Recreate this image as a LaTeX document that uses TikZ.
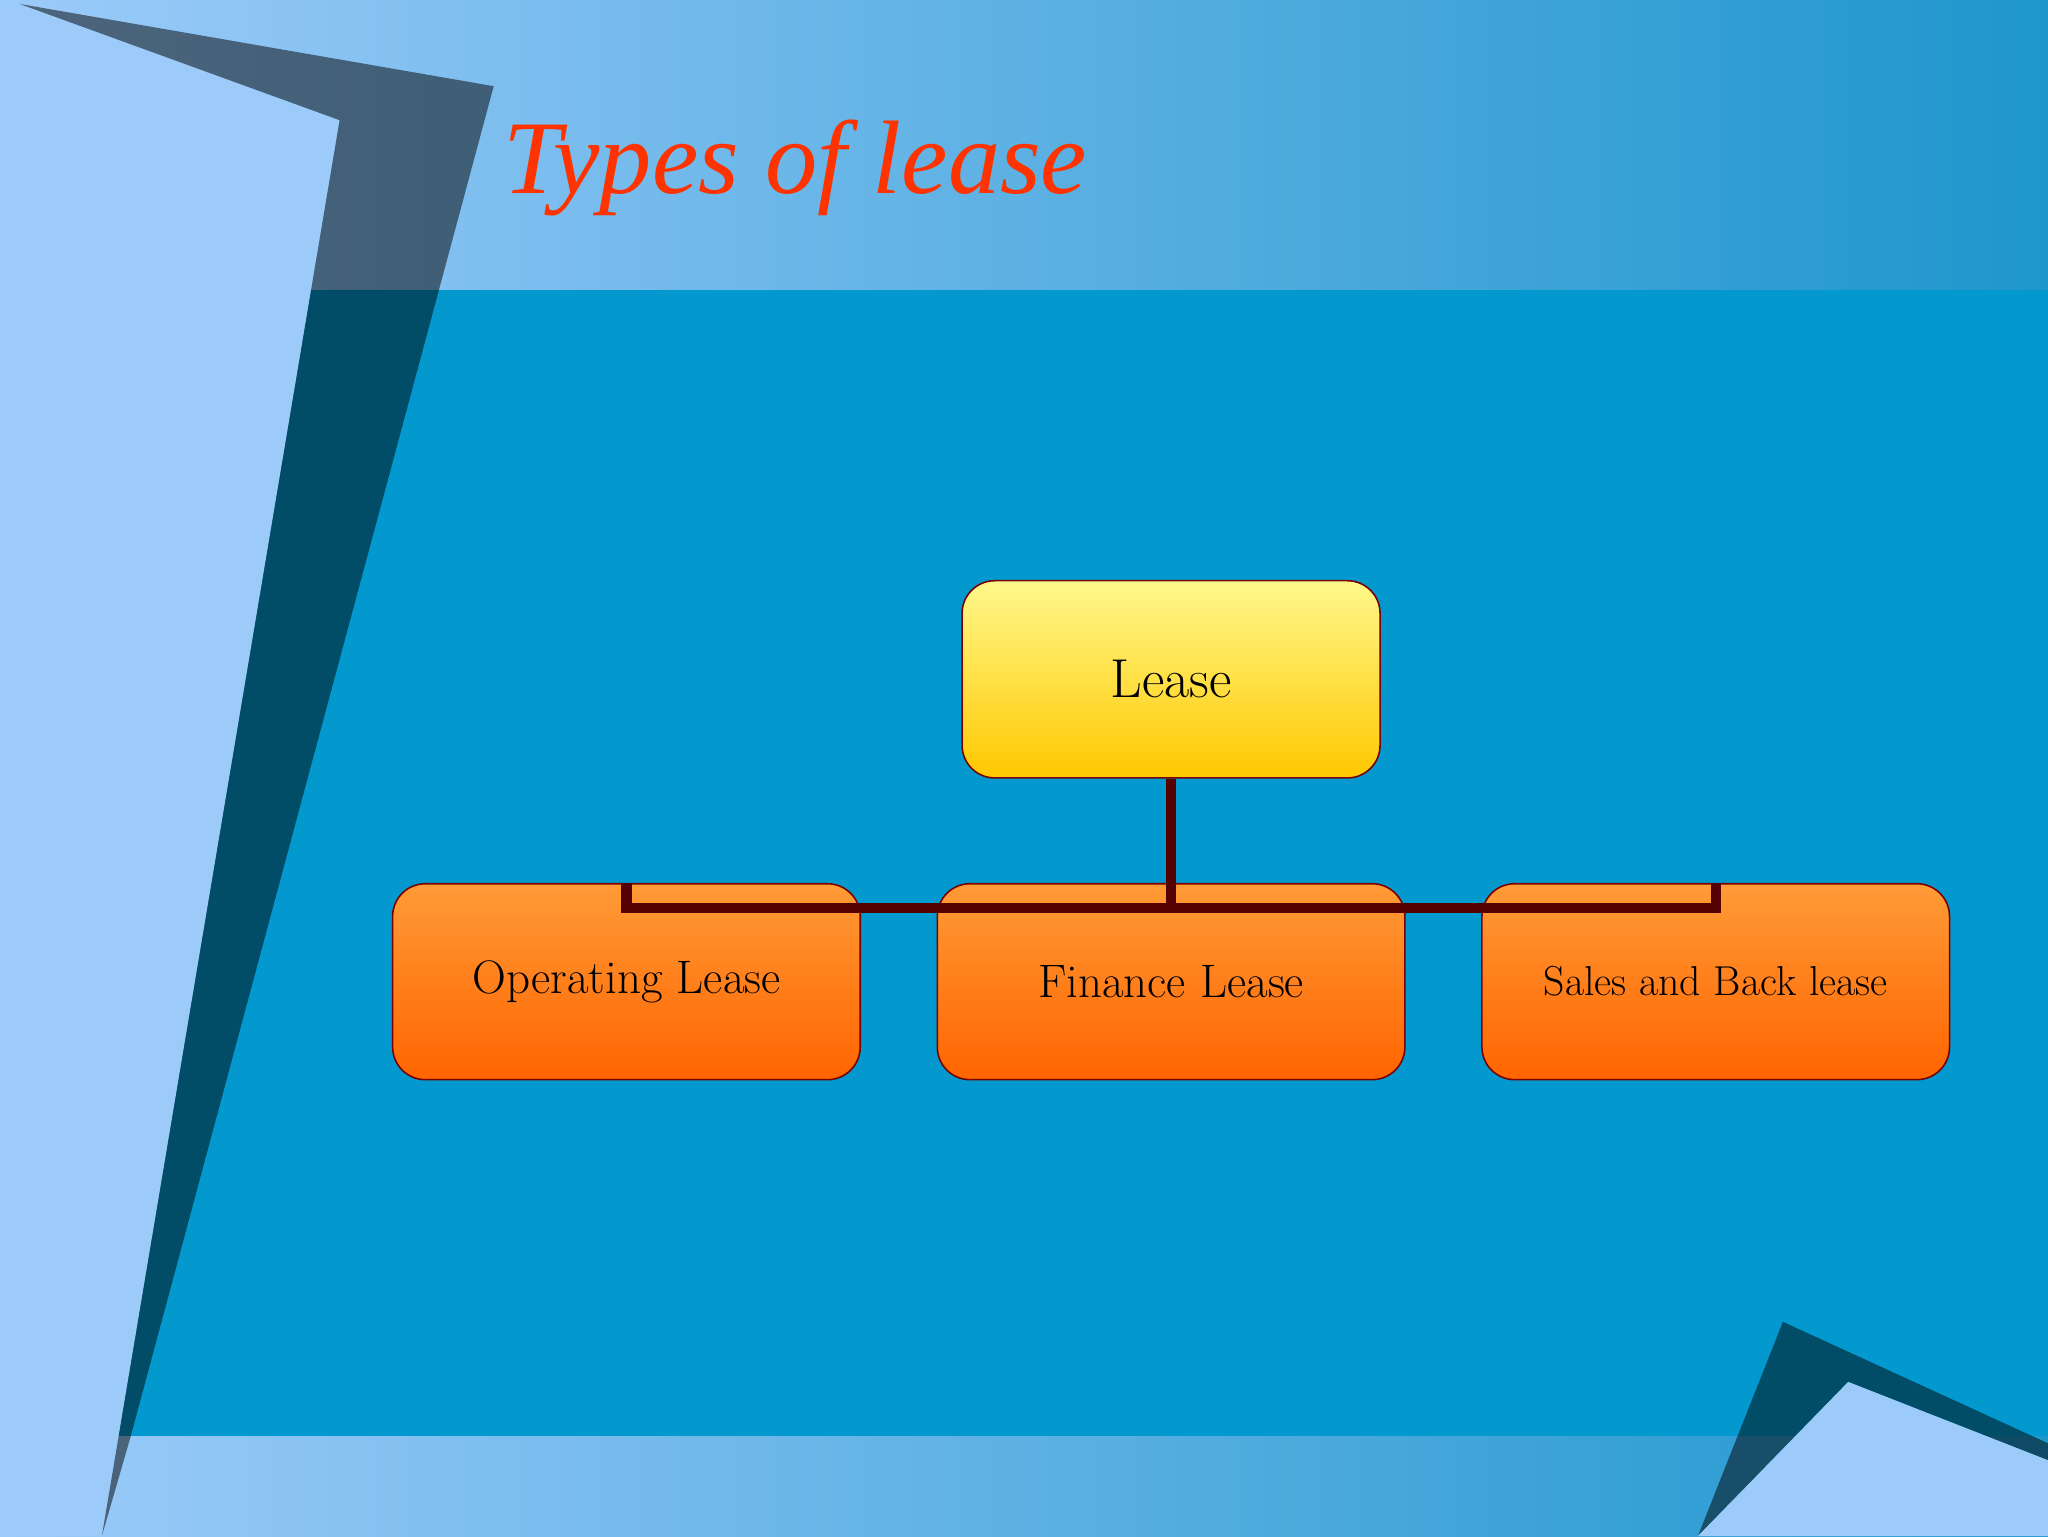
\documentclass[tikz,border=0pt]{standalone}
\usepackage{fontspec}
\setmainfont{Liberation Serif}
\newfontfamily\bodyfont{Latin Modern Roman}
\begin{document}
\begin{tikzpicture}[x=1pt,y=-1pt,
  box/.style={draw={rgb,255:red,120;green,0;blue,0},line width=1.2pt,rounded corners=25pt,minimum width=358pt,minimum height=150pt,anchor=north west,inner sep=0pt,font=\bodyfont\fontsize{36}{40}\selectfont,text=black},
  ybox/.style={box,minimum width=320pt,minimum height=151pt,top color={rgb,255:red,255;green,248;blue,140},bottom color={rgb,255:red,255;green,200;blue,0},font=\bodyfont\fontsize{42}{46}\selectfont},
  obox/.style={box,top color={rgb,255:red,255;green,155;blue,55},bottom color={rgb,255:red,255;green,100;blue,0}},
  conn/.style={draw={rgb,255:red,85;green,0;blue,0},line width=8pt}]
\useasboundingbox (0,0) rectangle (1568,1176);
\definecolor{lb}{RGB}{156,203,250}
\definecolor{db}{RGB}{30,150,204}
\definecolor{mid}{RGB}{3,153,207}
\fill[left color=lb,right color=db] (0,0) rectangle (1568,222);
\fill[mid] (0,222) rectangle (1568,1100);
\fill[left color=lb,right color=db] (0,1100) rectangle (1568,1176);
% left shapes
\fill[lb] (0,0) -- (15,3) -- (260,92) -- (78,1176) -- (0,1176) -- cycle;
\fill[black,opacity=0.5] (15,3) -- (378,66) -- (100,1100) -- (78,1176) -- (260,92) -- cycle;
% bottom right
\fill[black,opacity=0.5] (1365,1012) -- (1568,1105) -- (1568,1118) -- (1415,1058) -- (1300,1176) -- cycle;
\fill[lb] (1415,1058) -- (1568,1118) -- (1568,1176) -- (1300,1176) -- cycle;
% title
\node[anchor=base west,text={rgb,255:red,255;green,51;blue,0},font=\itshape\fontsize{80}{90}\selectfont,inner sep=0pt] (title) at (385,148) {Types of lease};
% boxes
\node[ybox] (lease) at (736,444) {Lease};
\node[obox] (op) at (300,676) {Operating Lease};
\node[obox] (fin) at (717,676) {Finance Lease};
\node[obox,font=\bodyfont\fontsize{32}{36}\selectfont] (sal) at (1134,676) {Sales and Back lease};
\coordinate (j) at ([yshift=-19pt]fin.north);
\draw[conn] (lease.south) -- (j);
\draw[conn] (op.north) |- (j) -| (sal.north);
\draw[conn] (j) -- (fin.north);
\end{tikzpicture}
\end{document}
